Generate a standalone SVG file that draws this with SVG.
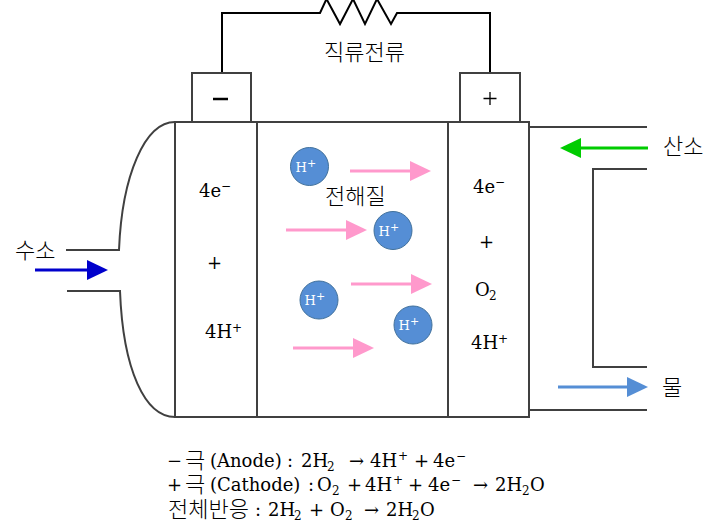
<svg xmlns="http://www.w3.org/2000/svg" width="720" height="532" viewBox="0 0 720 532">
<style>
text{font-family:"DejaVu Serif","Noto Sans CJK KR",serif;font-size:18px;fill:#000}
.k{font-family:"Noto Sans CJK KR","Noto Sans",sans-serif;font-size:22px;font-weight:300}
.s{font-size:12px}
.w{fill:#fff;font-size:13px}
.ws{fill:#fff;font-size:11px}
.line{fill:none;stroke:#404040;stroke-width:2}
.wire{fill:none;stroke:#000;stroke-width:2}
.ion{fill:#558ed5;stroke:#41719c;stroke-width:1}
.pink{stroke:#ff99cc;stroke-width:3;fill:none}
</style>
<defs>
<marker id="ap" markerUnits="userSpaceOnUse" markerWidth="21" markerHeight="20" refX="11" refY="10" orient="auto"><path d="M0 0L21 10L0 20Z" fill="#ff99cc"/></marker>
<marker id="ab" markerUnits="userSpaceOnUse" markerWidth="21" markerHeight="20" refX="11" refY="10" orient="auto"><path d="M0 0L21 10L0 20Z" fill="#0000cc"/></marker>
<marker id="ag" markerUnits="userSpaceOnUse" markerWidth="21" markerHeight="20" refX="11" refY="10" orient="auto"><path d="M0 0L21 10L0 20Z" fill="#00cc00"/></marker>
<marker id="aw" markerUnits="userSpaceOnUse" markerWidth="21" markerHeight="20" refX="11" refY="10" orient="auto"><path d="M0 0L21 10L0 20Z" fill="#558ed5"/></marker>
</defs>
<g id="connectors">
<path class="wire" d="M222 72V13H320L326.500 -1L340 24L353 -1L365 24L377 -1L391 24L397 13H490V72"/>
<path class="line" d="M529 127H647M647 169H593V367H647M529 410H647"/>
<path class="line" d="M66 250H119C122 175 145 122 175 122"/>
<path class="line" d="M67 291H120C123 370 145 417 175 417"/>
<g class="pink">
<path d="M350 171H421" marker-end="url(#ap)"/>
<path d="M286 230H357" marker-end="url(#ap)"/>
<path d="M351 284H422" marker-end="url(#ap)"/>
<path d="M293 348H364" marker-end="url(#ap)"/>
</g>
<path d="M35 270H98" stroke="#0000cc" stroke-width="3" fill="none" marker-end="url(#ab)"/>
<path d="M648 148H570" stroke="#00cc00" stroke-width="3" fill="none" marker-end="url(#ag)"/>
<path d="M558 387H638" stroke="#558ed5" stroke-width="3" fill="none" marker-end="url(#aw)"/>
</g>
<g id="cell">
<rect class="line" x="175" y="122" width="354" height="295"/>
<path class="line" d="M257 122V417M448 122V417"/>
</g>
<g id="terminal-minus"><rect class="line" x="192" y="73" width="59" height="49"/><path d="M213 99H228" stroke="#000" stroke-width="2.500"/></g>
<g id="terminal-plus"><rect class="line" x="460" y="73" width="60" height="49"/><path d="M490 92V105M483.500 98.500H496.500" stroke="#000" stroke-width="1.300"/></g>
<g id="label-dc"><text class="k" x="324" y="60">직류전류</text></g>
<g id="label-electrolyte"><text class="k" x="325" y="204">전해질</text></g>
<g id="label-hydrogen"><text class="k" x="15" y="258">수소</text></g>
<g id="label-oxygen"><text class="k" x="663" y="154">산소</text></g>
<g id="label-water"><text class="k" x="662" y="395">물</text></g>
<g id="anode-labels">
<text x="199" y="197">4e</text><text class="s" x="221" y="190">−</text>
<text x="207" y="269">+</text>
<text x="205" y="338">4H</text><text class="s" x="232" y="332">+</text>
</g>
<g id="cathode-labels">
<text x="473" y="193">4e</text><text class="s" x="495" y="186">−</text>
<text x="479" y="248">+</text>
<text x="475" y="296">O</text><text class="s" x="489" y="300">2</text>
<text x="471" y="349">4H</text><text class="s" x="498" y="343">+</text>
</g>
<g id="ion1"><circle class="ion" cx="309.500" cy="166.500" r="19"/><text class="w" x="295.500" y="172">H</text><text class="ws" x="307" y="167">+</text></g>
<g id="ion2"><circle class="ion" cx="393" cy="230.500" r="19"/><text class="w" x="378.500" y="236">H</text><text class="ws" x="390" y="231">+</text></g>
<g id="ion3"><circle class="ion" cx="319" cy="300" r="19"/><text class="w" x="304.500" y="305">H</text><text class="ws" x="316" y="300">+</text></g>
<g id="ion4"><circle class="ion" cx="413" cy="325" r="19"/><text class="w" x="398.500" y="330">H</text><text class="ws" x="410" y="325">+</text></g>
<g id="equations">
<text x="167" y="467">−</text><text class="k" x="185" y="468">극</text><text x="210" y="467">(Anode)</text><text x="287" y="467">:</text><text x="301" y="467">2H</text><text class="s" x="327" y="471">2</text><text x="349" y="467" font-size="16">→</text><text x="370" y="467">4H</text><text class="s" x="398" y="460">+</text><text x="414" y="467">+</text><text x="433" y="467">4e</text><text class="s" x="456" y="460">−</text>
<text x="167" y="491">+</text><text class="k" x="185" y="492">극</text><text x="210" y="491">(Cathode)</text><text x="308" y="491">:</text><text x="317" y="491">O</text><text class="s" x="332" y="495">2</text><text x="347" y="491">+</text><text x="365" y="491">4H</text><text class="s" x="393" y="484">+</text><text x="408" y="491">+</text><text x="428" y="491">4e</text><text class="s" x="451" y="484">−</text><text x="473" y="491" font-size="16">→</text><text x="495" y="491">2H</text><text class="s" x="522" y="495">2</text><text x="530" y="491">O</text>
<text class="k" x="168" y="517">전체반응</text><text x="255" y="516">:</text><text x="268" y="516">2H</text><text class="s" x="294" y="520">2</text><text x="309" y="516">+</text><text x="330" y="516">O</text><text class="s" x="345" y="520">2</text><text x="364" y="516" font-size="16">→</text><text x="386" y="516">2H</text><text class="s" x="412" y="520">2</text><text x="420" y="516">O</text>
</g>
</svg>
